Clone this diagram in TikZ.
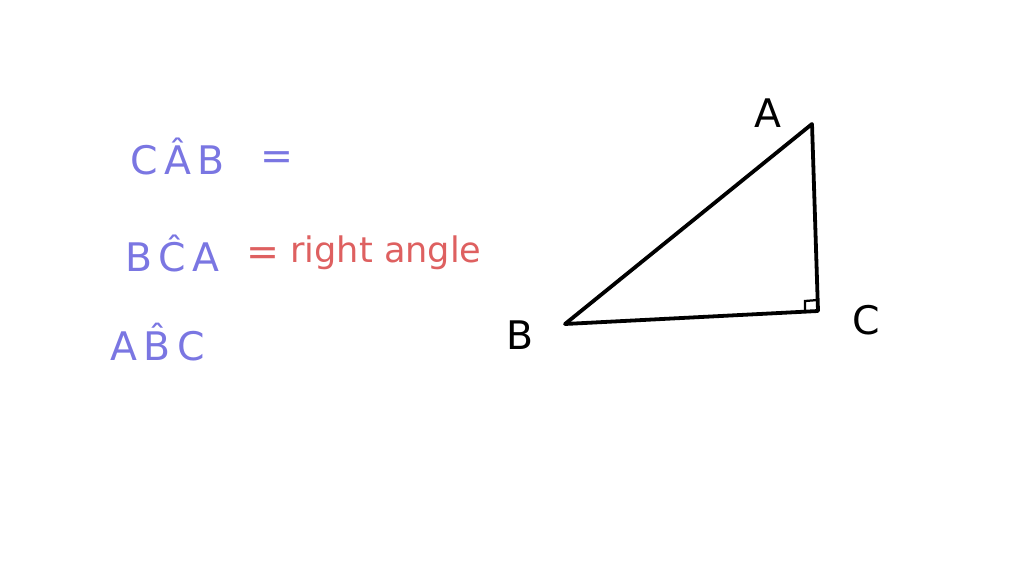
\documentclass[tikz,border=0pt]{standalone}
\usepackage{fontspec}
\setmainfont{DejaVu Sans}
\usetikzlibrary{calc}
\definecolor{penblue}{RGB}{122,118,226}
\definecolor{penred}{RGB}{222,96,96}
\begin{document}
\begin{tikzpicture}[x=0.025cm,y=-0.025cm]

\tikzstyle{side} = [line width=2.7pt, line join=round, line cap=round]
\tikzstyle{vlabel} = [font=\fontsize{28}{34}\selectfont]
\tikzstyle{ang} = [font=\fontsize{28}{34}\selectfont, text=penblue, anchor=base west, inner sep=0pt]
\tikzstyle{note} = [font=\fontsize{25}{30}\selectfont, text=penred, anchor=base west, inner sep=0pt]

\useasboundingbox (0,0) rectangle (1024,576);

% triangle
\coordinate (A) at (812,124);
\coordinate (B) at (565,324);
\coordinate (C) at (818,311);
\draw[side] (B) -- (A) -- (C) -- cycle;
\draw[line width=1.6pt] ($(C)+(-13,1)$) -- ++(0,-11) -- ++(13,-1);

\node[vlabel] (lA) at (768,113) {A};
\node[vlabel] (lB) at (520,335) {B};
\node[vlabel] (lC) at (866,320) {C};

% angle names
\node[ang] (cab) at (130,175) {C\,\^A\,B};
\node[ang] (cabeq) at (260,170) {=};
\node[ang] (bca) at (125,272) {B\,\^C\,A};
\node[ang, text=penred] (bcaeq) at (246,266) {=};
\node[note] (right) at (290,263) {right angle};
\node[ang] (abc) at (110,360) {A\,B̂\,C};

\end{tikzpicture}
\end{document}
